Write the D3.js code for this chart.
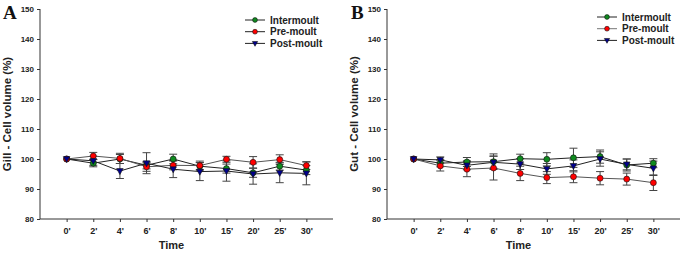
<!DOCTYPE html>
<html>
<head>
<meta charset="utf-8">
<script src="https://cdn.jsdelivr.net/npm/d3@7"></script>
<style>
  body { margin: 0; background: #fff; }
  text { font-family: "Liberation Sans", Arial, sans-serif; font-weight: bold; }
</style>
</head>
<body>
<div id="chart"></div>
<script>
// Time points and axis ticks
const timeLabels = ["0'", "2'", "4'", "6'", "8'", "10'", "15'", "20'", "25'", "30'"];
const yTicks = [80, 90, 100, 110, 120, 130, 140, 150];
const seriesNames = ["Intermoult", "Pre-moult", "Post-moult"];

// Panel A: gill cell volume (%)
const gillInter = [100, 98.6, 100.0, 97.9, 100.0, 97.6, 96.8, 95.4, 97.6, 96.3];
const gillInterErr = [0, 1.2, 1.5, 1.2, 1.6, 1.2, 1.5, 1.5, 1.3, 1.5];
const gillPre = [100, 101.0, 100.2, 97.4, 97.9, 97.8, 99.9, 98.9, 99.8, 97.8];
const gillPreErr = [0, 1.2, 1.7, 1.5, 1.5, 1.5, 1.0, 1.9, 1.6, 1.3];
const gillPost = [100, 99.4, 96.0, 98.6, 96.6, 95.8, 96.0, 95.0, 95.4, 95.2];
const gillPostErr = [0, 1.5, 2.5, 3.5, 2.8, 3.0, 3.4, 3.4, 3.3, 3.8];

// Panel B: gut cell volume (%)
const gutInter = [100, 98.6, 99.0, 99.1, 100.1, 99.9, 100.4, 100.8, 98.0, 98.6];
const gutInterErr = [0, 1.2, 1.5, 2.6, 1.5, 2.2, 3.2, 2.2, 2.0, 1.5];
const gutPre = [100, 97.7, 96.6, 97.0, 95.2, 93.8, 94.1, 93.6, 93.3, 92.1];
const gutPreErr = [0, 1.7, 2.5, 4.0, 2.4, 2.0, 2.0, 2.2, 2.0, 2.6];
const gutPost = [100, 99.7, 97.9, 98.9, 98.3, 96.7, 97.7, 100.0, 98.2, 96.9];
const gutPostErr = [0, 1.0, 1.5, 2.0, 1.8, 1.8, 2.0, 2.4, 1.8, 2.4];

const width = 685, height = 253;
const colors = ["#0f8a1f", "#ff0000", "#00008b"];

const svg = d3.select("#chart").append("svg")
    .attr("width", width)
    .attr("height", height);

const drawPanel = (cfg) => {
    const g = svg.append("g");

    // x positions: index 0..9 placed inside -1..10 along the axis
    const x = d3.scaleLinear().domain([-1, 10]).range([cfg.x0, cfg.x1]);
    const y = d3.scaleLinear().domain([80, 150]).range([219, 9]);

    // Y axis
    g.append("g")
        .attr("transform", `translate(${cfg.x0},0)`)
        .call(d3.axisLeft(y).tickValues(yTicks).tickSize(3).tickPadding(3))
        .call(a => a.select(".domain").attr("d", `M0,${y(150)}V${y(80)}`).attr("stroke", "#333"))
        .call(a => a.selectAll("line").attr("stroke", "#333"))
        .call(a => a.selectAll("text").attr("font-size", "8px").attr("fill", "#222")
            .style("font-family", "'Liberation Sans', Arial, sans-serif").style("font-weight", "bold"));

    // X axis
    g.append("g")
        .attr("transform", `translate(0,${y(80)})`)
        .call(d3.axisBottom(x).tickValues(d3.range(10)).tickFormat(i => timeLabels[i]).tickSize(3).tickPadding(6))
        .call(a => a.select(".domain").attr("d", `M${cfg.x0},0H${cfg.x1}`).attr("stroke", "#333"))
        .call(a => a.selectAll("line").attr("stroke", "#333"))
        .call(a => a.selectAll("text").attr("font-size", "9px").attr("fill", "#222")
            .style("font-family", "'Liberation Sans', Arial, sans-serif").style("font-weight", "bold"));

    // Axis labels
    g.append("text")
        .attr("x", (cfg.x0 + cfg.x1) / 2 - 15)
        .attr("y", 249)
        .attr("text-anchor", "middle")
        .attr("font-size", "11px")
        .attr("fill", "#222")
        .text("Time");

    g.append("text")
        .attr("transform", `translate(${cfg.x0 - 29},${y(115)}) rotate(-90)`)
        .attr("text-anchor", "middle")
        .attr("font-size", "11.5px")
        .attr("fill", "#222")
        .text(cfg.yLabel);

    // Panel letter
    g.append("text")
        .attr("x", cfg.letterX)
        .attr("y", 19)
        .attr("font-size", "19px")
        .style("font-family", "'Liberation Serif', 'Times New Roman', serif")
        .attr("fill", "#111")
        .text(cfg.letter);

    const line = d3.line().x((d, i) => x(i)).y(d => y(d));

    // Error bars first
    cfg.series.forEach((s) => {
        const eb = g.append("g").attr("stroke", "#444").attr("stroke-width", 1);
        s.values.forEach((v, i) => {
            const e = s.errors[i];
            if (!e) return;
            eb.append("line").attr("x1", x(i)).attr("x2", x(i)).attr("y1", y(v + e)).attr("y2", y(v - e));
            eb.append("line").attr("x1", x(i) - 4).attr("x2", x(i) + 4).attr("y1", y(v + e)).attr("y2", y(v + e));
            eb.append("line").attr("x1", x(i) - 4).attr("x2", x(i) + 4).attr("y1", y(v - e)).attr("y2", y(v - e));
        });
    });

    // Lines
    cfg.series.forEach((s, k) => {
        g.append("path")
            .datum(s.values)
            .attr("fill", "none")
            .attr("stroke", k === 1 ? "#555" : "#222")
            .attr("stroke-width", 1)
            .attr("d", line);
    });

    // Markers
    cfg.series.forEach((s, k) => {
        drawMarkers(g, s.values.map((v, i) => [x(i), y(v)]), k);
    });

    // Legend
    const legend = g.append("g").attr("transform", `translate(${cfg.legendX},${cfg.legendY})`);
    seriesNames.forEach((name, k) => {
        const row = legend.append("g").attr("transform", `translate(0,${k * 11.7})`);
        row.append("line").attr("x1", 0).attr("x2", 20).attr("y1", 0).attr("y2", 0)
            .attr("stroke", k === 1 && cfg.letter === "B" ? "#777" : "#222");
        drawMarkers(row, [[10, 0]], k, 0.8);
        row.append("text")
            .attr("x", 25)
            .attr("y", 3.5)
            .attr("font-size", "10px")
            .attr("fill", "#222")
            .text(name);
    });
};

function drawMarkers(g, pts, k, scale = 1) {
    const r = 3.0 * scale;
    if (k === 2) {
        g.selectAll(null).data(pts).join("path")
            .attr("d", d => `M${d[0] - r * 1.1},${d[1] - r * 0.8}L${d[0] + r * 1.1},${d[1] - r * 0.8}L${d[0]},${d[1] + r * 1.2}Z`)
            .attr("fill", colors[k])
            .attr("stroke", "#111")
            .attr("stroke-width", 0.6);
    } else {
        g.selectAll(null).data(pts).join("circle")
            .attr("cx", d => d[0])
            .attr("cy", d => d[1])
            .attr("r", r)
            .attr("fill", colors[k])
            .attr("stroke", "#111")
            .attr("stroke-width", 0.6);
    }
}

drawPanel({
    letter: "A", letterX: 3, x0: 40, x1: 333,
    yLabel: "Gill - Cell volume (%)",
    legendX: 245, legendY: 20,
    series: [
        { values: gillInter, errors: gillInterErr },
        { values: gillPre, errors: gillPreErr },
        { values: gillPost, errors: gillPostErr }
    ]
});

drawPanel({
    letter: "B", letterX: 351, x0: 387, x1: 680,
    yLabel: "Gut - Cell volume (%)",
    legendX: 597, legendY: 17,
    series: [
        { values: gutInter, errors: gutInterErr },
        { values: gutPre, errors: gutPreErr },
        { values: gutPost, errors: gutPostErr }
    ]
});
</script>
</body>
</html>
